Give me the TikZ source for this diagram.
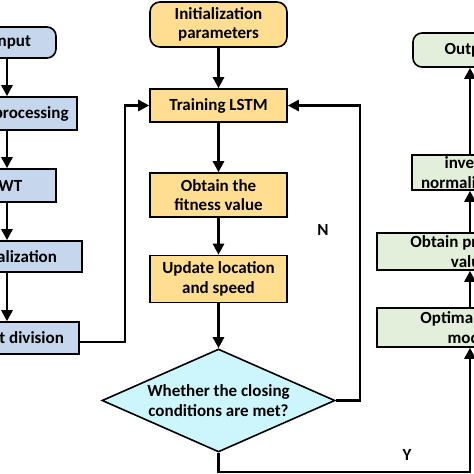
\documentclass[tikz,border=0pt]{standalone}
\usepackage{fontspec}
\setmainfont{Carlito}
\usetikzlibrary{arrows.meta,shapes.geometric}
\definecolor{bluef}{RGB}{198,214,236}
\definecolor{yelf}{RGB}{255,222,145}
\definecolor{cyanf}{RGB}{204,246,251}
\definecolor{greenf}{RGB}{227,239,218}
\tikzset{
  base/.style={draw=black, line width=1.6pt, align=center, inner sep=0pt,
    font=\fontsize{17}{19.5}\selectfont\bfseries},
  bluebox/.style={base, fill=bluef},
  yelbox/.style={base, fill=yelf, minimum width=137pt},
  greenbox/.style={base, fill=greenf},
  dia/.style={base, diamond, fill=cyanf, shape aspect=2.26, minimum width=233pt, minimum height=103pt},
  conn/.style={line width=2.6pt, -{Triangle[length=11pt,width=11pt]}},
  lab/.style={font=\fontsize{17}{19.5}\selectfont\bfseries}
}
\begin{document}
\begin{tikzpicture}[x=1pt,y=-1pt]
\useasboundingbox (0,0) rectangle (474,474);
\clip (0,0) rectangle (474,474);
\fill[white] (0,0) rectangle (474,474);
% left column
\node[bluebox, rounded corners=9pt, minimum width=88pt, minimum height=31pt] (input) at (12,42.5) {Input};
\node[bluebox, minimum width=115pt, minimum height=33pt] (pre) at (19.5,113.5) {Preprocessing};
\node[bluebox, minimum width=102pt, minimum height=33pt] (dwt) at (5,185.5) {DWT};
\node[bluebox, minimum width=150pt, minimum height=31pt] (norm) at (7,256.5) {Normalization};
\node[bluebox, minimum width=143pt, minimum height=32pt] (ds) at (7.5,338) {Dataset division};
\coordinate (lx) at (7,0);
\draw[conn] (lx |- input.south) -- (lx |- pre.north);
\draw[conn] (lx |- pre.south) -- (lx |- dwt.north);
\draw[conn] (lx |- dwt.south) -- (lx |- norm.north);
\draw[conn] (lx |- norm.south) -- (lx |- ds.north);
% centre column
\node[yelbox, rounded corners=10pt, minimum height=45pt] (init) at (218.5,24.5) {Initialization\\parameters};
\node[yelbox, minimum height=33pt] (train) at (218.5,105.5) {Training LSTM};
\node[yelbox, minimum height=44pt] (fit) at (218.5,195) {Obtain the\\fitness value};
\node[yelbox, minimum height=47pt] (upd) at (218.5,279) {Update location\\and speed};
\node[dia] (cond) at (218.5,400.5) {Whether the closing\\conditions are met?};
\draw[conn] (init) -- (train);
\draw[conn] (train) -- (fit);
\draw[conn] (fit) -- (upd);
\draw[conn] (upd) -- (cond);
\coordinate (dx) at (125,0);
\coordinate (dsout) at ([yshift=-4pt]ds.east);
\draw[conn] (dsout) -- (dx |- dsout) -- (dx |- train.west) -- (train.west);
\coordinate (nx) at (360,0);
\draw[conn] (cond.east) -- (nx |- cond.east) -- (nx |- train.east) -- (train.east);
\node[lab] (nlab) at (323,230) {N};
% right column
\node[greenbox, rounded corners=9pt, minimum width=114pt, minimum height=34pt] (out) at (470,50) {Output};
\node[greenbox, minimum width=116pt, minimum height=35pt] (inv) at (470,172.5) {inverse\\normalization};
\node[greenbox, minimum width=186pt, minimum height=37pt] (pred) at (470,251.5) {Obtain predicted\\value};
\node[greenbox, minimum width=186pt, minimum height=39pt] (opt) at (470,327.5) {Optimal LSTM\\model};
\draw[conn] (inv) -- (out);
\draw[conn] (pred) -- (inv);
\draw[conn] (opt) -- (pred);
\coordinate (by) at (0,472);
\draw[conn] (cond.south) -- (cond.south |- by) -- (opt.south |- by) -- (opt.south);
\node[lab] (ylab) at (407,455) {Y};
\end{tikzpicture}
\end{document}
